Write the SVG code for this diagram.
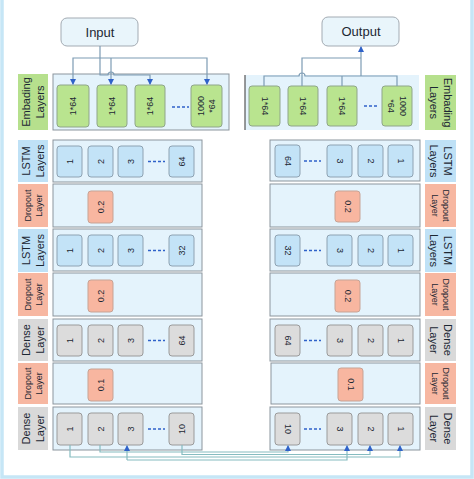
<svg xmlns="http://www.w3.org/2000/svg" width="474" height="479" viewBox="0 0 474 479">
<defs>
<marker id="arr" viewBox="0 0 6 6" refX="5" refY="3" markerWidth="6" markerHeight="6" markerUnits="userSpaceOnUse" orient="auto">
<path d="M0,0 L6,3 L0,6 Z" fill="#2f62c9"/>
</marker>
<style>
text{font-family:"Liberation Sans",Arial,sans-serif;fill:#1c2733;text-anchor:middle}
.io{fill:#e9f5fb;stroke:#a3abb3;stroke-width:1}
.cont{fill:#e4f3fc;stroke:#8c959d;stroke-width:1}
.lg{fill:#b6e08d}
.lb{fill:#bfe1f6}
.lr{fill:#f7b7a1}
.ly{fill:#d9d9d9}
.ng{fill:#b9e48f;stroke:#8fa58a;stroke-width:1}
.nb{fill:#c3e3f7;stroke:#8ea2b2;stroke-width:1}
.nr{fill:#f8b6a0;stroke:#c7a395;stroke-width:1}
.ny{fill:#dcdcdc;stroke:#9a9a9a;stroke-width:1}
.lt{font-size:11px}
.ls{font-size:9px}
.nt{font-size:9px}
.dash{stroke:#2f62c9;stroke-width:1.5;stroke-dasharray:3,2;fill:none}
.c1{fill:none;stroke:#7d9cb4;stroke-width:1.2}
.c2{fill:none;stroke:#86bcc0;stroke-width:1.2}
</style>
</defs>
<rect width="474" height="479" fill="#ffffff"/>
<path d="M2,0 V477 H472 V0" fill="none" stroke="#c6e6f6" stroke-width="3.5"/>

<g id="input"><rect class="io" x="61" y="18" width="77" height="28" rx="6"/><text x="100" y="37" font-size="13">Input</text></g>
<g id="output"><rect class="io" x="322" y="17" width="77" height="29" rx="6"/><text x="361" y="36" font-size="13">Output</text></g>

<!-- LEFT SIDE -->
<g id="left-embedding">
<rect class="lg" x="18" y="74" width="30" height="56"/>
<text class="lt" transform="translate(33,102) rotate(-90)"><tspan x="0" y="-3">Embading</tspan><tspan x="0" y="11">Layers</tspan></text>
<rect class="cont" x="53" y="74" width="176" height="56" stroke="#555"/>
<rect class="ng" x="57" y="85" width="32" height="42" rx="3"/>
<rect class="ng" x="97" y="85" width="30" height="42" rx="3"/>
<rect class="ng" x="135" y="85" width="30" height="42" rx="3" stroke="#556b50"/>
<rect class="ng" x="191" y="85" width="31" height="42" rx="3"/>
<text class="nt" transform="translate(73,106) rotate(-90)" y="3">1*64</text>
<text class="nt" transform="translate(112,106) rotate(-90)" y="3">1*64</text>
<text class="nt" transform="translate(150,106) rotate(-90)" y="3">1*64</text>
<text class="nt" transform="translate(206.5,106) rotate(-90)"><tspan x="0" y="-2.5">1000</tspan><tspan x="0" y="8.5">*64</tspan></text>
<line class="dash" x1="172" y1="107" x2="189" y2="107"/>
</g>

<g id="left-lstm1">
<rect class="lb" x="18" y="140" width="30" height="42"/>
<text class="lt" transform="translate(33,161) rotate(-90)"><tspan x="0" y="-3">LSTM</tspan><tspan x="0" y="11">Layers</tspan></text>
<rect class="cont" x="53" y="140" width="149" height="42"/>
<rect class="nb" x="57" y="146" width="25" height="31" rx="3"/>
<rect class="nb" x="88" y="146" width="25" height="31" rx="3"/>
<rect class="nb" x="118" y="146" width="25" height="31" rx="3"/>
<rect class="nb" x="169" y="146" width="25" height="31" rx="3"/>
<text class="nt" transform="translate(69.5,161.5) rotate(-90)" y="3">1</text>
<text class="nt" transform="translate(100.5,161.5) rotate(-90)" y="3">2</text>
<text class="nt" transform="translate(130.5,161.5) rotate(-90)" y="3">3</text>
<text class="nt" transform="translate(181.5,161.5) rotate(-90)" y="3">64</text>
<line class="dash" x1="148" y1="161.5" x2="165" y2="161.5"/>
</g>

<g id="left-dropout1">
<rect class="lr" x="18" y="184" width="30" height="43"/>
<text class="ls" transform="translate(33,205.5) rotate(-90)"><tspan x="0" y="-2.5">Dropout</tspan><tspan x="0" y="8.5">Layer</tspan></text>
<rect class="cont" x="53" y="184" width="149" height="43"/>
<rect class="nr" x="88" y="191" width="25" height="32" rx="3"/>
<text class="nt" transform="translate(100.5,207) rotate(-90)" y="3">0.2</text>
</g>

<g id="left-lstm2">
<rect class="lb" x="18" y="229" width="30" height="43"/>
<text class="lt" transform="translate(33,250.5) rotate(-90)"><tspan x="0" y="-3">LSTM</tspan><tspan x="0" y="11">Layers</tspan></text>
<rect class="cont" x="53" y="229" width="149" height="42"/>
<rect class="nb" x="57" y="235" width="25" height="31" rx="3"/>
<rect class="nb" x="88" y="235" width="25" height="31" rx="3"/>
<rect class="nb" x="118" y="235" width="25" height="31" rx="3"/>
<rect class="nb" x="169" y="235" width="25" height="31" rx="3"/>
<text class="nt" transform="translate(69.5,250.5) rotate(-90)" y="3">1</text>
<text class="nt" transform="translate(100.5,250.5) rotate(-90)" y="3">2</text>
<text class="nt" transform="translate(130.5,250.5) rotate(-90)" y="3">3</text>
<text class="nt" transform="translate(181.5,250.5) rotate(-90)" y="3">32</text>
<line class="dash" x1="148" y1="250.5" x2="165" y2="250.5"/>
</g>

<g id="left-dropout2">
<rect class="lr" x="18" y="273" width="30" height="43"/>
<text class="ls" transform="translate(33,294.5) rotate(-90)"><tspan x="0" y="-2.5">Dropout</tspan><tspan x="0" y="8.5">Layer</tspan></text>
<rect class="cont" x="53" y="273" width="149" height="43"/>
<rect class="nr" x="88" y="280" width="25" height="32" rx="3"/>
<text class="nt" transform="translate(100.5,296) rotate(-90)" y="3">0.2</text>
</g>

<g id="left-dense1">
<rect class="ly" x="18" y="319" width="30" height="42"/>
<text class="lt" transform="translate(33,340) rotate(-90)"><tspan x="0" y="-3">Dense</tspan><tspan x="0" y="11">Layer</tspan></text>
<rect class="cont" x="53" y="319" width="149" height="42"/>
<rect class="ny" x="57" y="325" width="25" height="31" rx="3"/>
<rect class="ny" x="88" y="325" width="25" height="31" rx="3"/>
<rect class="ny" x="118" y="325" width="25" height="31" rx="3"/>
<rect class="ny" x="169" y="325" width="25" height="31" rx="3"/>
<text class="nt" transform="translate(69.5,340.5) rotate(-90)" y="3">1</text>
<text class="nt" transform="translate(100.5,340.5) rotate(-90)" y="3">2</text>
<text class="nt" transform="translate(130.5,340.5) rotate(-90)" y="3">3</text>
<text class="nt" transform="translate(181.5,340.5) rotate(-90)" y="3">64</text>
<line class="dash" x1="148" y1="340.5" x2="165" y2="340.5"/>
</g>

<g id="left-dropout3">
<rect class="lr" x="18" y="363" width="30" height="41"/>
<text class="ls" transform="translate(33,383.5) rotate(-90)"><tspan x="0" y="-2.5">Dropout</tspan><tspan x="0" y="8.5">Layer</tspan></text>
<rect class="cont" x="53" y="363" width="149" height="41"/>
<rect class="nr" x="88" y="369" width="25" height="32" rx="3"/>
<text class="nt" transform="translate(100.5,385) rotate(-90)" y="3">0.1</text>
</g>

<g id="left-dense2">
<rect class="ly" x="18" y="407" width="30" height="43"/>
<text class="lt" transform="translate(33,428.5) rotate(-90)"><tspan x="0" y="-3">Dense</tspan><tspan x="0" y="11">Layer</tspan></text>
<rect class="cont" x="53" y="407" width="149" height="43"/>
<rect class="ny" x="57" y="413" width="25" height="32" rx="3"/>
<rect class="ny" x="88" y="413" width="25" height="32" rx="3"/>
<rect class="ny" x="118" y="413" width="25" height="32" rx="3"/>
<rect class="ny" x="169" y="413" width="25" height="32" rx="3"/>
<text class="nt" transform="translate(69.5,429) rotate(-90)" y="3">1</text>
<text class="nt" transform="translate(100.5,429) rotate(-90)" y="3">2</text>
<text class="nt" transform="translate(130.5,429) rotate(-90)" y="3">3</text>
<text class="nt" transform="translate(181.5,429) rotate(-90)" y="3">10</text>
<line class="dash" x1="148" y1="429" x2="165" y2="429"/>
</g>

<!-- RIGHT SIDE -->
<g id="right-embedding">
<rect class="lg" x="425" y="75" width="31" height="55"/>
<text class="lt" transform="translate(440.5,102.5) rotate(90)"><tspan x="0" y="-3">Embading</tspan><tspan x="0" y="11">Layers</tspan></text>
<rect x="245" y="75" width="174" height="55" fill="#e4f3fc"/>
<line x1="245" y1="75" x2="245" y2="130" stroke="#555" stroke-width="1.2"/>
<rect class="ng" x="249" y="86" width="31" height="40" rx="3"/>
<rect class="ng" x="288" y="86" width="30" height="40" rx="3"/>
<rect class="ng" x="327" y="86" width="30" height="40" rx="3"/>
<rect class="ng" x="382" y="86" width="30" height="40" rx="3"/>
<text class="nt" transform="translate(264.5,106) rotate(90)" y="3">1*64</text>
<text class="nt" transform="translate(303,106) rotate(90)" y="3">1*64</text>
<text class="nt" transform="translate(342,106) rotate(90)" y="3">1*64</text>
<text class="nt" transform="translate(397,106) rotate(90)"><tspan x="0" y="-3">1000</tspan><tspan x="0" y="9">*64</tspan></text>
<line class="dash" x1="364" y1="106" x2="379" y2="106"/>
</g>

<g id="right-lstm1">
<rect class="lb" x="425" y="140" width="31" height="42"/>
<text class="lt" transform="translate(440.5,161) rotate(90)"><tspan x="0" y="-3">LSTM</tspan><tspan x="0" y="11">Layers</tspan></text>
<rect class="cont" x="270" y="140" width="150" height="41"/>
<rect class="nb" x="275" y="145" width="25" height="32" rx="3"/>
<rect class="nb" x="327" y="145" width="25" height="32" rx="3"/>
<rect class="nb" x="358" y="145" width="25" height="32" rx="3"/>
<rect class="nb" x="388" y="145" width="25" height="32" rx="3"/>
<text class="nt" transform="translate(287.5,161) rotate(90)" y="3">64</text>
<text class="nt" transform="translate(339.5,161) rotate(90)" y="3">3</text>
<text class="nt" transform="translate(370.5,161) rotate(90)" y="3">2</text>
<text class="nt" transform="translate(400.5,161) rotate(90)" y="3">1</text>
<line class="dash" x1="304" y1="161" x2="321" y2="161"/>
</g>

<g id="right-dropout1">
<rect class="lr" x="425" y="184" width="31" height="43"/>
<text class="ls" transform="translate(440.5,205.5) rotate(90)"><tspan x="0" y="-2.5">Dropout</tspan><tspan x="0" y="8.5">Layer</tspan></text>
<rect class="cont" x="270" y="184" width="150" height="43"/>
<rect class="nr" x="335" y="191" width="25" height="31" rx="3"/>
<text class="nt" transform="translate(347.5,206.5) rotate(90)" y="3">0.2</text>
</g>

<g id="right-lstm2">
<rect class="lb" x="425" y="229" width="31" height="43"/>
<text class="lt" transform="translate(440.5,250.5) rotate(90)"><tspan x="0" y="-3">LSTM</tspan><tspan x="0" y="11">Layers</tspan></text>
<rect class="cont" x="270" y="229" width="150" height="42"/>
<rect class="nb" x="275" y="235" width="25" height="31" rx="3"/>
<rect class="nb" x="327" y="235" width="25" height="31" rx="3"/>
<rect class="nb" x="358" y="235" width="25" height="31" rx="3"/>
<rect class="nb" x="388" y="235" width="25" height="31" rx="3"/>
<text class="nt" transform="translate(287.5,250.5) rotate(90)" y="3">32</text>
<text class="nt" transform="translate(339.5,250.5) rotate(90)" y="3">3</text>
<text class="nt" transform="translate(370.5,250.5) rotate(90)" y="3">2</text>
<text class="nt" transform="translate(400.5,250.5) rotate(90)" y="3">1</text>
<line class="dash" x1="304" y1="250.5" x2="321" y2="250.5"/>
</g>

<g id="right-dropout2">
<rect class="lr" x="425" y="273" width="31" height="43"/>
<text class="ls" transform="translate(440.5,294.5) rotate(90)"><tspan x="0" y="-2.5">Dropout</tspan><tspan x="0" y="8.5">Layer</tspan></text>
<rect class="cont" x="270" y="273" width="150" height="43" stroke="#555"/>
<rect class="nr" x="335" y="280" width="25" height="32" rx="3"/>
<text class="nt" transform="translate(347.5,296) rotate(90)" y="3">0.2</text>
</g>

<g id="right-dense1">
<rect class="ly" x="425" y="319" width="31" height="42"/>
<text class="lt" transform="translate(440.5,340) rotate(90)"><tspan x="0" y="-3">Dense</tspan><tspan x="0" y="11">Layer</tspan></text>
<rect class="cont" x="270" y="319" width="150" height="42"/>
<rect class="ny" x="275" y="325" width="25" height="31" rx="3"/>
<rect class="ny" x="327" y="325" width="25" height="31" rx="3"/>
<rect class="ny" x="358" y="325" width="25" height="31" rx="3"/>
<rect class="ny" x="388" y="325" width="25" height="31" rx="3"/>
<text class="nt" transform="translate(287.5,340.5) rotate(90)" y="3">64</text>
<text class="nt" transform="translate(339.5,340.5) rotate(90)" y="3">3</text>
<text class="nt" transform="translate(370.5,340.5) rotate(90)" y="3">2</text>
<text class="nt" transform="translate(400.5,340.5) rotate(90)" y="3">1</text>
<line class="dash" x1="304" y1="340.5" x2="321" y2="340.5"/>
</g>

<g id="right-dropout3">
<rect class="lr" x="425" y="363" width="31" height="41"/>
<text class="ls" transform="translate(440.5,383.5) rotate(90)"><tspan x="0" y="-2.5">Dropout</tspan><tspan x="0" y="8.5">Layer</tspan></text>
<rect class="cont" x="271" y="363" width="149" height="41"/>
<rect class="nr" x="338" y="368" width="25" height="33" rx="3"/>
<text class="nt" transform="translate(350.5,384.5) rotate(90)" y="3">0.1</text>
</g>

<g id="right-dense2">
<rect class="ly" x="425" y="407" width="31" height="43"/>
<text class="lt" transform="translate(440.5,428.5) rotate(90)"><tspan x="0" y="-3">Dense</tspan><tspan x="0" y="11">Layer</tspan></text>
<rect class="cont" x="270" y="407" width="150" height="43"/>
<rect class="ny" x="275" y="413" width="25" height="32" rx="3"/>
<rect class="ny" x="327" y="413" width="25" height="32" rx="3"/>
<rect class="ny" x="358" y="413" width="25" height="32" rx="3"/>
<rect class="ny" x="388" y="413" width="25" height="32" rx="3"/>
<text class="nt" transform="translate(287.5,429) rotate(90)" y="3">10</text>
<text class="nt" transform="translate(339.5,429) rotate(90)" y="3">3</text>
<text class="nt" transform="translate(370.5,429) rotate(90)" y="3">2</text>
<text class="nt" transform="translate(400.5,429) rotate(90)" y="3">1</text>
<line class="dash" x1="304" y1="429" x2="321" y2="429"/>
</g>

<g id="connectors">
<path class="c1" d="M100,46 V75 H108 a3,3 0 0 1 6,0 H150 V84" marker-end="url(#arr)"/>
<path class="c1" d="M100,58 H73 V84" marker-end="url(#arr)"/>
<path class="c1" d="M100,58 H207 V84" marker-end="url(#arr)"/>
<path class="c1" d="M111,58 V84" marker-end="url(#arr)"/>
<path class="c1" d="M361,76 V47" marker-end="url(#arr)"/>
<path class="c1" d="M302,86 V58 H361"/>
<path class="c1" d="M264,86 V76 H299 a3,3 0 0 1 6,0 H397 V86"/>
<path class="c1" d="M342,86 V76"/>
<path class="c2" d="M70,445 V457 H400 V446" marker-end="url(#arr)"/>
<path class="c2" d="M100,445 V452 H288 V446" marker-end="url(#arr)"/>
<path class="c2" d="M182,445 V454.5 H370 V446" marker-end="url(#arr)"/>
<path class="c2" d="M127,460 V446" marker-end="url(#arr)"/>
<path class="c2" d="M127,460 H347 V446" marker-end="url(#arr)"/>
</g>
</svg>
